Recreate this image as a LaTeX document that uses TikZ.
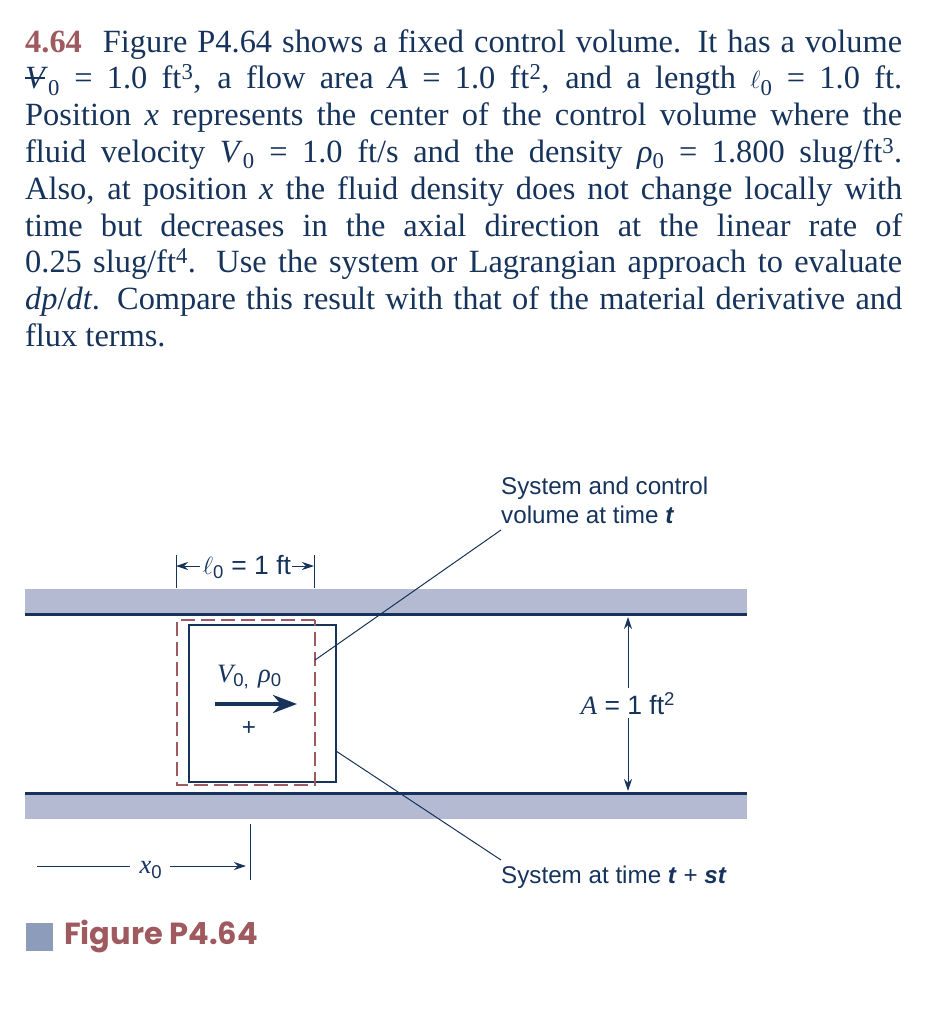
\documentclass[tikz,border=0pt]{standalone}
\usepackage{fontspec}
\setmainfont{Liberation Serif}
\setsansfont{Liberation Sans}
\newfontfamily\captionfont{Poppins}
\usetikzlibrary{arrows.meta}
\definecolor{navy}{HTML}{16335C}
\definecolor{wallgray}{HTML}{B3BAD1}
\definecolor{maroon}{HTML}{9E5A5E}
\definecolor{slate}{HTML}{8E9CBC}
\newcommand{\volbar}{\leavevmode\rlap{\rule[0.3em]{0.62em}{0.05em}}\textit{V}}
\newcommand{\subzero}{\textsubscript{0}}
\newcommand{\mvar}[1]{{\rmfamily\itshape #1}}
\tikzset{
  wall/.style= {fill=wallgray, draw=none},
  wallline/.style= {draw=navy, line width=3},
  sysbox/.style= {draw=navy, line width=1.3},
  cvbox/.style= {draw=maroon, line width=1.3, dash pattern=on 14 off 6},
  thin line/.style= {draw=navy, line width=1},
  dim/.style= {draw=navy, line width=1, -{Stealth[length=12, width=8]}},
  flow/.style= {draw=navy, line width=4.5, -{Stealth[length=24, width=18]}},
  lab/.style= {text=navy, inner sep=0, font=\sffamily\fontsize{24.2}{29}\selectfont},
  biglab/.style= {text=navy, inner sep=0, font=\sffamily\fontsize{26.5}{30}\selectfont},
}

\begin{document}
\begin{tikzpicture}[x=1pt, y=-1pt]
  \useasboundingbox (0,0) rectangle (942,1024);

  \node [text=navy, anchor=north west, inner sep=0, text width=877, align=justify,
         font=\fontsize{32.4}{36.8}\selectfont] (problem) at (25,29) {%
    \textcolor{maroon}{\textbf{4.64}}\hspace{21pt}Figure P4.64 shows a fixed control volume. It has a volume\linebreak
    \volbar\subzero\ = 1.0 ft\textsuperscript{3}, a flow area \textit{A} = 1.0 ft\textsuperscript{2}, and a length $\ell$\subzero\ = 1.0 ft.\linebreak
    Position \textit{x} represents the center of the control volume where the\linebreak
    fluid velocity \textit{V}\subzero\ = 1.0 ft/s and the density \textit{ρ}\subzero\ = 1.800 slug/ft\textsuperscript{3}.\linebreak
    Also, at position \textit{x} the fluid density does not change locally with\linebreak
    time but decreases in the axial direction at the linear rate of\linebreak
    0.25 slug/ft\textsuperscript{4}. Use the system or Lagrangian approach to evaluate\linebreak
    \textit{dp}/\textit{dt}. Compare this result with that of the material derivative and\linebreak
    flux terms.};

  \fill [wall] (25,589) rectangle (747,614);
  \fill [wall] (25,793) rectangle (747,819);
  \coordinate (topl) at (25,614);
  \coordinate (topr) at (747,614);
  \coordinate (botl) at (25,793);
  \coordinate (botr) at (747,793);
  \draw [wallline] (topl) -- (topr);
  \draw [wallline] (botl) -- (botr);

  \draw [sysbox] (189,625) rectangle (336,782);
  \draw [cvbox] (315,620) -- (177,620) -- (177,785) -- (315,785) -- cycle;

  \node [lab, anchor=north west, align=left] (cvlabel) at (501,477) {System and control\\volume at time \textit{\textbf{t}}};
  \node [lab, anchor=west] (syslabel) at (501,877) {System at time \textit{\textbf{t}} + \textit{\textbf{st}}};
  \coordinate (cvend) at (501,530);
  \coordinate (cvstart) at (315,660);
  \coordinate (sysend) at (501,860);
  \coordinate (sysstart) at (336,751);
  \draw [thin line] (cvstart) -- (cvend);
  \draw [thin line] (sysstart) -- (sysend);

  \node [biglab] (len) at (247,567) {$\ell$\textsubscript{0} = 1 ft};
  \coordinate (lentickl) at (176,555);
  \coordinate (lentickr) at (314,555);
  \draw [thin line] (lentickl) -- ++(0,33);
  \draw [thin line] (lentickr) -- ++(0,33);
  \draw [dim] (len.west) ++(-3,-1) -- (lentickl |- 0,566);
  \draw [dim] (len.east) ++(1,-1) -- (lentickr |- 0,566);

  \node [biglab] (vel) at (249.5,677) {\mvar{V}\textsubscript{0,}\,\,\mvar{ρ}\textsubscript{0}};
  \coordinate (flowl) at (215,704);
  \coordinate (flowr) at (297,704);
  \draw [flow] (flowl) -- (flowr);
  \node [lab] (plus) at (249,729) {+};

  \node [biglab] (area) at (628,704) {\mvar{A} = 1 ft\textsuperscript{2}};
  \coordinate (areatop) at (628,617);
  \coordinate (areabot) at (628,791);
  \draw [dim] (628,688) -- (areatop);
  \draw [dim] (628,718) -- (areabot);

  \node [biglab] (xpos) at (151,870) {\mvar{x}\textsubscript{0}};
  \coordinate (xstart) at (37,866);
  \coordinate (xend) at (246,866);
  \coordinate (xtick) at (250,824);
  \draw [thin line] (xstart) -- (130,866);
  \draw [dim] (170,866) -- (xend);
  \draw [thin line] (xtick) -- ++(0,56);

  \fill [slate] (26,923) rectangle (53,951);
  \node [anchor=west, inner sep=0, text=maroon, font=\captionfont\bfseries\fontsize{30.5}{34}\selectfont] (caption) at (64,936) {Figure P4.64};
\end{tikzpicture}
\end{document}
